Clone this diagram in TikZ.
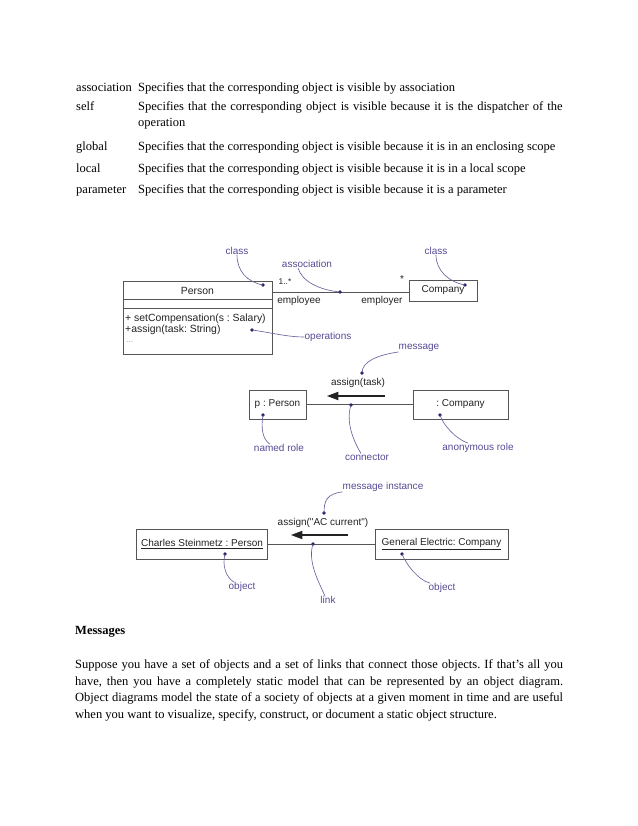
\documentclass[tikz,border=0pt,12pt]{standalone}
\usepackage{fontspec}
\setmainfont{Liberation Serif}
\newfontfamily\diagfont{Liberation Sans}
\usetikzlibrary{arrows.meta}
\usetikzlibrary{positioning}
\frenchspacing

\definecolor{lblcol}{RGB}{88,74,150}
\definecolor{dotcol}{RGB}{38,34,100}
\definecolor{curvecol}{RGB}{100,96,155}
\definecolor{boxcol}{RGB}{85,85,85}
\definecolor{inkcol}{RGB}{35,35,35}

\begin{document}
\begin{tikzpicture}[x=0.9592pt,y=-0.9592pt]
\tikzstyle{body} = [inner sep=0pt, anchor=base west, font=\frenchspacing\fontsize{12}{16.3}\selectfont]
\tikzstyle{box} = [draw=boxcol, line width=0.8pt, inner sep=0pt]
\tikzstyle{txt} = [inner sep=0pt, text=inkcol, font=\frenchspacing\diagfont\fontsize{9.6}{11}\selectfont]
\tikzstyle{optxt} = [txt, anchor=west, font=\frenchspacing\diagfont\fontsize{10}{11}\selectfont]
\tikzstyle{lbl} = [inner sep=0pt, text=lblcol, font=\diagfont\fontsize{9.6}{11}\selectfont]
\tikzstyle{dot} = [circle, fill=dotcol, inner sep=0pt, minimum size=3.6pt]
\tikzstyle{callout} = [draw=curvecol, line width=0.6pt]
\tikzstyle{link} = [draw=boxcol, line width=0.8pt]
\tikzstyle{msg} = [draw=inkcol, line width=1.1pt, -{Triangle[length=11pt,width=8pt]}]

\path[use as bounding box, fill=white] (0,0) rectangle (638,826);

%Visibility table at the top of the page
\node[body] (kassoc) at (76,91) {association};
\node[body] (dassoc) at (138,91) {Specifies that the corresponding object is visible by association};
\node[body] (kself) at (76,110) {self};
\node[body, text width=407pt, align=justify] (dself) at (138,110) {Specifies that the corresponding object is visible because it is the dispatcher of the\linebreak operation};
\node[body] (kglobal) at (76,150) {global};
\node[body] (dglobal) at (138,150) {Specifies that the corresponding object is visible because it is in an enclosing scope};
\node[body] (klocal) at (76,172) {local};
\node[body] (dlocal) at (138,172) {Specifies that the corresponding object is visible because it is in a local scope};
\node[body] (kparam) at (76,193) {parameter};
\node[body] (dparam) at (138,193) {Specifies that the corresponding object is visible because it is a parameter};

%Class Person and class Company with their association
\node[box, minimum width=149*0.9592pt, minimum height=73*0.9592pt] (person) at (197.5,317.5) {};
\draw[link] (123,299) -- (272,299);
\draw[link] (123,308) -- (272,308);
\node[txt, font=\diagfont\fontsize{10}{11}\selectfont] (pname) at (197.5,291) {Person};
\node[optxt] (op1) at (125,319) {+ setCompensation(s : Salary)};
\node[optxt] (op2) at (125,330) {+assign(task: String)};
\node[optxt, text=gray!80, font=\diagfont\fontsize{8}{9}\selectfont] (op3) at (126,342) {...};
\node[box, txt, minimum width=68*0.9592pt, minimum height=21*0.9592pt] (company) at (443,290.5) {Company};
\coordinate (assoc) at (340,292);
\draw[link] (person.east |- assoc) -- (company.west |- assoc);
\node[txt, font=\diagfont\fontsize{8}{9}\selectfont] (mult1) at (285,282) {1..*};
\node[txt] (mult2) at (402,279) {*};
\node[txt] (role1) at (299,301) {employee};
\node[txt] (role2) at (382,301) {employer};

%Callouts of the class diagram
\node[dot] (dclass1) at (263,285) {};
\node[dot] (dassoc) at (assoc) {};
\node[dot] (dclass2) at (465,285) {};
\node[dot] (dops) at (252,330) {};
\node[lbl] (lclass1) at (237,251) {class};
\node[lbl] (lassoc) at (307,264) {association};
\node[lbl] (lclass2) at (436,251) {class};
\node[lbl] (lops) at (328,337) {operations};
\draw[callout] (lclass1.south) .. controls +(0,16) and +(-16,-3) .. (dclass1.center);
\draw[callout] ([shift={(-9,0)}]lassoc.south) .. controls +(4,14) and +(-20,-2) .. (dassoc.center);
\draw[callout] (lclass2.south) .. controls +(0,16) and +(-16,-3) .. (dclass2.center);
\draw[callout] (dops.center) .. controls +(16,2) and +(-18,0) .. (lops.west);

%Roles joined by a connector, with a message
\node[box, txt, minimum width=57*0.9592pt, minimum height=29*0.9592pt] (prole) at (277.5,404.5) {p : Person};
\node[box, txt, minimum width=95*0.9592pt, minimum height=29*0.9592pt] (crole) at (460.5,404.5) {: Company};
\draw[link] (prole) -- (crole);
\node[txt] (assigntask) at (358,383) {assign(task)};
\coordinate (msgtail) at (385,396);
\coordinate (msghead) at (327,396);
\draw[msg] (msgtail) -- (msghead);
\node[dot] (dmsg) at (362,373) {};
\node[dot] (dprole) at (263,415) {};
\node[dot] (dconn) at (351,405) {};
\node[dot] (dcrole) at (440,415) {};
\node[lbl] (lmsg) at (419,348) {message};
\node[lbl] (lnamed) at (279,448) {named role};
\node[lbl] (lconn) at (367,457) {connector};
\node[lbl] (lanon) at (478,448) {anonymous role};
\draw[callout] (lmsg.south west) .. controls +(-20,3) and +(0,-12) .. (dmsg.center);
\draw[callout] (dprole.center) .. controls +(-2,12) and +(-8,-5) .. ([shift={(-9,0)}]lnamed.north);
\draw[callout] (dconn.center) .. controls +(-6,18) and +(-6,-10) .. ([shift={(-6,0)}]lconn.north);
\draw[callout] (dcrole.center) .. controls +(3,10) and +(-12,-4) .. ([shift={(-10,0)}]lanon.north);

%Objects joined by a link, with a message instance
\node[box, txt, minimum width=131*0.9592pt, minimum height=30*0.9592pt] (charles) at (202,544) {\underline{Charles Steinmetz : Person}};
\node[box, txt, minimum width=133*0.9592pt, minimum height=30*0.9592pt] (ge) at (441.5,544) {\underline{General Electric: Company}};
\draw[link] (charles) -- (ge);
\node[txt] (assignac) at (323,523) {assign("AC current")};
\coordinate (insttail) at (348,535);
\coordinate (insthead) at (291,535);
\draw[msg] (insttail) -- (insthead);
\node[dot] (dinst) at (324,513) {};
\node[dot] (dcharles) at (225,554) {};
\node[dot] (dlink) at (313,544) {};
\node[dot] (dge) at (402,554) {};
\node[lbl] (linst) at (383,487) {message instance};
\node[lbl] (lobj1) at (242,587) {object};
\node[lbl] (llink) at (328,600) {link};
\node[lbl] (lobj2) at (442,588) {object};
\draw[callout] (linst.south west) .. controls +(-16,2) and +(0,-12) .. (dinst.center);
\draw[callout] (dcharles.center) .. controls +(-3,12) and +(-8,-5) .. ([shift={(-8,0)}]lobj1.north);
\draw[callout] (dlink.center) .. controls +(-6,18) and +(-5,-12) .. ([shift={(-3,0)}]llink.north);
\draw[callout] (dge.center) .. controls +(4,10) and +(-12,-3) .. ([shift={(-12,0)}]lobj2.north);

%Section on messages
\node[body] (mhead) at (75,634) {\textbf{Messages}};
\node[body, text width=468pt, align=justify] (mpara) at (75,668) {Suppose you have a set of objects and a set of links that connect those objects. If that's all you\linebreak have, then you have a completely static model that can be represented by an object diagram.\linebreak Object diagrams model the state of a society of objects at a given moment in time and are useful\linebreak when you want to visualize, specify, construct, or document a static object structure.};

\end{tikzpicture}
\end{document}
